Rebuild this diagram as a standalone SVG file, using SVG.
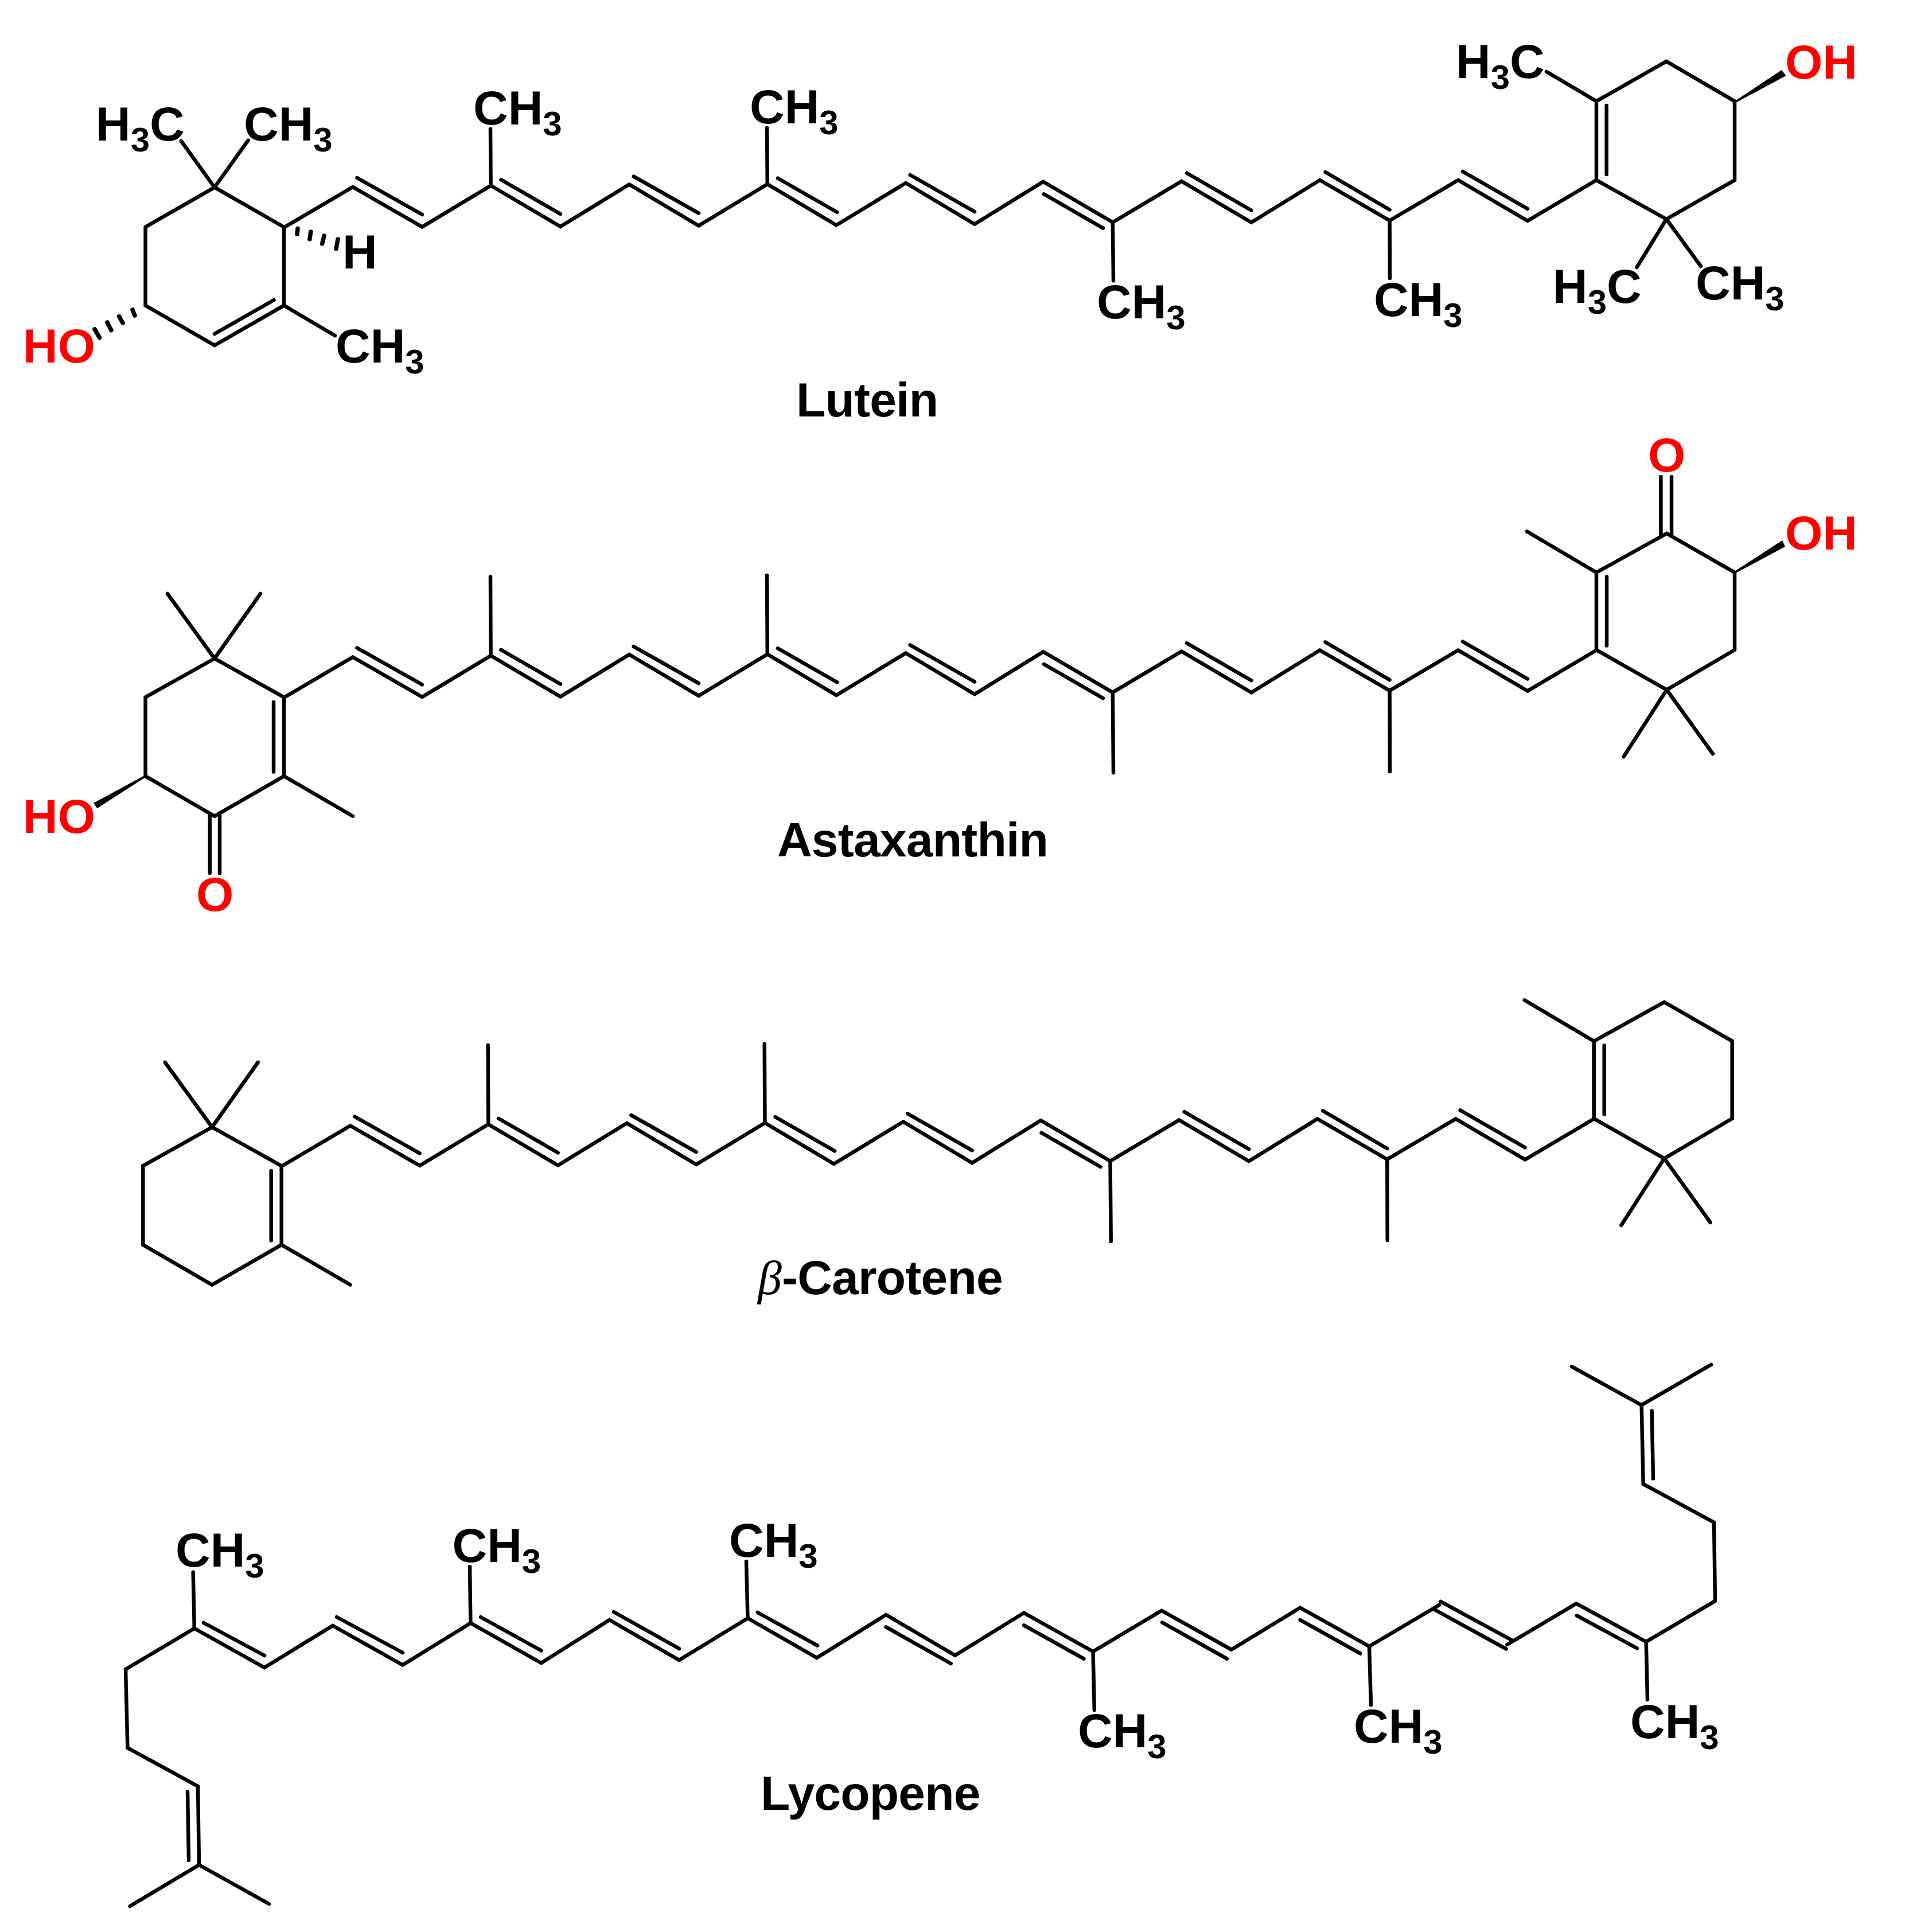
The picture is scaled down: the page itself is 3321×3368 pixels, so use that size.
<svg xmlns="http://www.w3.org/2000/svg" xmlns:xlink="http://www.w3.org/1999/xlink" width="3321" height="3368" viewBox="0 0 3321 3368">
<style>
.b{fill:none;stroke:#000;stroke-width:6.5;stroke-linecap:round;stroke-linejoin:miter;stroke-miterlimit:6}
.h{stroke-width:7.5}
.w{fill:#000;stroke:none}
text{font-family:"Liberation Sans",Arial,sans-serif;font-weight:700;font-size:84px;fill:#000}
.r{fill:#f00}
.s{font-size:60px}
.n{letter-spacing:-.8px}
.g{font-family:"Liberation Serif","Times New Roman",serif;font-style:italic;font-weight:400}
</style>
<defs>
<g id="polyene">
<path class="b" d="M496 396L615 326L736 395.5L855.6 323.5L977 395L1097 321.5L1218 393.5L1337.8 321L1458 392.5L1579 319L1699 390.7L1818.7 316.7L1939.8 387.5L2059.8 316L2181.5 387.7L2300.9 314L2422.6 384.5L2542 314L2663 385L2783 314"/>
<path class="b" d="M622.5 310L736 374M873.4 313.3L977 373M1104.7 307.7L1218 371.7M1356 310.7L1459.5 370M1586.7 305L1699 369M1819.8 338.3L1923 397.7M2069 301.7L2181.5 366.7M2310.6 300L2422.6 365.7M2550 299L2663 364"/>
</g>
</defs>
<g id="connectors">
<g id="lutein-bonds">
<use href="#polyene" xlink:href="#polyene"/>
<path class="b" d="M374 326.6L253.6 395.8V532.5L374 602L495 532.5V395.8Z"/>
<path class="b" d="M477.5 523L374 582M374 326.6L316 246M374 326.6L432.6 244.7M495 532.5L584 585"/>
<path class="b h" d="M519 398.5L518 408M541.8 404L539.8 417M565 411L561.7 425M589 417L586 433.7M231 540L235 550M207.7 551.6L214 563M187 562L194 575.7M165 573.8L173.5 588.7"/>
<path class="b" d="M855.6 323.5L855 225M1337.8 321L1337 222.7M1939.8 387.5L1941 489.3M2422.6 384.5L2423 485"/>
<path class="b" d="M2783 176.4L2905 107L3024 176.4V314L2905 382L2783 314Z"/>
<path class="b" d="M2800.7 184V304M2783 176.4L2696 125M2905 382L2853.5 466M2905 382L2965 464"/>
<polygon class="w" points="3024,176.4 3106,122 3113.5,132 3024,180"/>
</g>
<g id="astaxanthin-bonds">
<use href="#polyene" xlink:href="#polyene" transform="translate(0 819.5)"/>
<path class="b" d="M374 1148L253.6 1215.4V1353L374 1422.7L495 1353V1215.4Z"/>
<path class="b" d="M477 1224V1345.5M374 1148L292 1035M374 1148L454 1035M495 1353L615 1422.7M365.8 1420.5V1522M383 1420.5V1522"/>
<polygon class="w" points="253.6,1351 163,1400 169.4,1409 253.6,1355"/>
<path class="b" d="M855.6 1143L855 1005M1337.8 1140.5L1337 1003M1939.8 1207L1941 1347M2422.6 1204L2423 1345"/>
<path class="b" d="M2783 998L2905.6 930L3024 998V1133L2905.6 1202.5L2783 1133Z"/>
<path class="b" d="M2801 1005.6V1125.4M2783 998L2662 926.5M2905.6 1202.5L2830.6 1319M2905.6 1202.5L2986 1314M2895.4 931.7V831M2914 931.7V831"/>
<polygon class="w" points="3024,996 3107,942 3112,953 3024,1000"/>
</g>
<g id="carotene-bonds">
<use href="#polyene" xlink:href="#polyene" transform="translate(-4.3 1636.5)"/>
<path class="b" d="M369.7 1965L249.3 2032.4V2170L369.7 2239.7L490.7 2170V2032.4Z"/>
<path class="b" d="M472.7 2041V2162.5M369.7 1965L287.7 1852M369.7 1965L449.7 1852M490.7 2170L610.7 2239.7"/>
<path class="b" d="M851.3 1960L850.7 1822M1333.5 1957.5L1332.7 1820M1935.5 2024L1936.7 2164M2418.3 2021L2418.7 2162"/>
<path class="b" d="M2778.7 1815L2901.3 1747L3019.7 1815V1950L2901.3 2019.5L2778.7 1950Z"/>
<path class="b" d="M2796.7 1822.6V1942.4M2778.7 1815L2657.7 1743.5M2901.3 2019.5L2826.3 2136M2901.3 2019.5L2981.7 2131"/>
</g>
<g id="lycopene-bonds">
<path class="b" d="M226.5 3323L347 3251L345 3114L222.4 3047L219 2910L338.8 2838.7L461 2907L580 2834L702 2902.5L820.4 2829.4L943.6 2899L1062.4 2824L1184 2894L1303.5 2821L1424 2890L1544.6 2815L1665 2885.7L1785 2811.7L1905.5 2879L2025 2807.7L2146.6 2875.7L2266.6 2802.7L2387 2870L2509 2798"/>
<path class="b" d="M347 3251L469 3319M327 3123.5L329 3243M355 2829L461 2886M587 2819L702 2881M838 2819L943.6 2877.5M1070 2810L1184 2874M1320.7 2811L1425 2868.6M1544.6 2836.4L1657.7 2900M1785 2833.3L1889.4 2891.7M2026 2828.3L2139 2891.7M2266.6 2824L2371.6 2882.7"/>
<path class="b" d="M2499 2805L2625.5 2874.4M2511.5 2792L2637 2860M2627.4 2867L2748 2795.4L2869.7 2862L2990 2791L2988 2654L2864.7 2587L2861.7 2449.4L2740 2382.4M2861.7 2449.4L2983 2379M2879.6 2459.6L2882 2577.5M2748.8 2816.3L2854 2873.5"/>
<path class="b" d="M338.8 2838.7L336.7 2740.7M820.4 2829.4L819 2731M1303.5 2821L1301 2722M1905.5 2879L1907.8 2981M2387 2870L2390 2972.3M2869.7 2862L2872 2963"/>
</g>
</g>
<g id="lutein-labels">
<g id="l-h3c-1"><text x="167" y="245">H<tspan class="s" dy="19">3</tspan><tspan dy="-19">C</tspan></text></g>
<g id="l-ch3-1"><text x="425" y="245">CH<tspan class="s" dy="19">3</tspan></text></g>
<g id="l-h"><text x="597" y="468">H</text></g>
<g id="l-ch3-2"><text x="585" y="632">CH<tspan class="s" dy="19">3</tspan></text></g>
<g id="l-ho"><text class="r" x="40" y="632">HO</text></g>
<g id="l-ch3-3"><text x="825" y="216.7">CH<tspan class="s" dy="19">3</tspan></text></g>
<g id="l-ch3-4"><text x="1307" y="215">CH<tspan class="s" dy="19">3</tspan></text></g>
<g id="l-ch3-5"><text x="1912" y="555">CH<tspan class="s" dy="19">3</tspan></text></g>
<g id="l-ch3-6"><text x="2395" y="551">CH<tspan class="s" dy="19">3</tspan></text></g>
<g id="l-h3c-2"><text x="2538" y="136">H<tspan class="s" dy="19">3</tspan><tspan dy="-19">C</tspan></text></g>
<g id="l-oh"><text class="r" x="3112" y="137">OH</text></g>
<g id="l-h3c-3"><text x="2707" y="527.5">H<tspan class="s" dy="19">3</tspan><tspan dy="-19">C</tspan></text></g>
<g id="l-ch3-7"><text x="2956" y="522">CH<tspan class="s" dy="19">3</tspan></text></g>
<g id="l-name"><text class="n" x="1388" y="726">Lutein</text></g>
</g>
<g id="astaxanthin-labels">
<g id="a-ho"><text class="r" x="40" y="1452">HO</text></g>
<g id="a-o-1"><text class="r" x="342" y="1588">O</text></g>
<g id="a-o-2"><text class="r" x="2873" y="822">O</text></g>
<g id="a-oh"><text class="r" x="3112" y="958">OH</text></g>
<g id="a-name"><text class="n" x="1355" y="1493">Astaxanthin</text></g>
</g>
<g id="carotene-labels">
<g id="c-name"><text class="g" x="1321" y="2256">β</text><text class="n" x="1363" y="2256">-Carotene</text></g>
</g>
<g id="lycopene-labels">
<g id="y-ch3-1"><text x="306" y="2731">CH<tspan class="s" dy="19">3</tspan></text></g>
<g id="y-ch3-2"><text x="788.5" y="2722.5">CH<tspan class="s" dy="19">3</tspan></text></g>
<g id="y-ch3-3"><text x="1271" y="2714">CH<tspan class="s" dy="19">3</tspan></text></g>
<g id="y-ch3-4"><text x="1879" y="3046">CH<tspan class="s" dy="19">3</tspan></text></g>
<g id="y-ch3-5"><text x="2360" y="3038">CH<tspan class="s" dy="19">3</tspan></text></g>
<g id="y-ch3-6"><text x="2842" y="3030">CH<tspan class="s" dy="19">3</tspan></text></g>
<g id="y-name"><text class="n" x="1326" y="3155">Lycopene</text></g>
</g>
</svg>
